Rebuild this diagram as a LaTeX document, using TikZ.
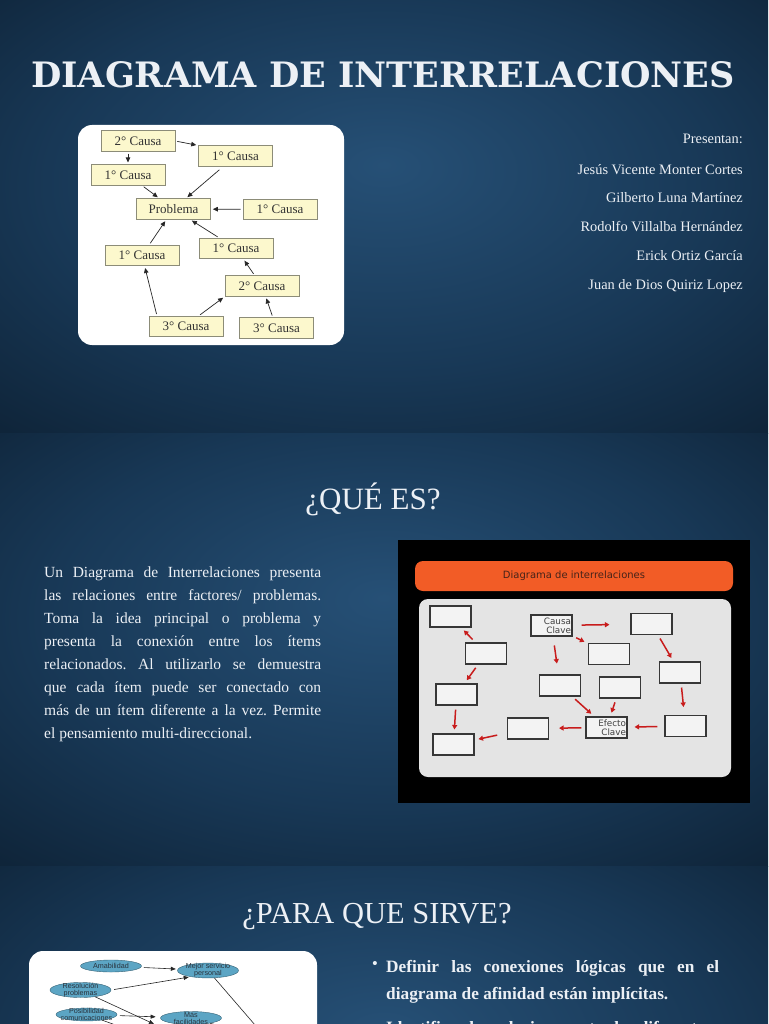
\documentclass[tikz,border=0pt]{standalone}
\usepackage{fontspec}
\setmainfont{Liberation Serif}
\newfontfamily\slabfont{DejaVu Serif}
\newfontfamily\guisans{DejaVu Sans}
\newfontfamily\arialfont{Liberation Sans}
\usetikzlibrary{arrows.meta,positioning,calc,shadows,shapes.geometric}

\definecolor{bgin}{RGB}{38,80,118}
\definecolor{bgmid}{RGB}{24,56,86}
\definecolor{bgout}{RGB}{10,26,42}
\definecolor{bgedge}{RGB}{6,16,26}
\definecolor{slidewhite}{RGB}{236,240,245}
\definecolor{causefill}{RGB}{252,248,205}
\definecolor{causeedge}{RGB}{140,140,120}
\definecolor{barorange}{RGB}{242,92,38}
\definecolor{bartext}{RGB}{70,35,25}
\definecolor{panelgrey}{RGB}{228,228,228}
\definecolor{boxfill}{RGB}{243,243,243}
\definecolor{boxedge}{RGB}{55,55,55}
\definecolor{arrowred}{RGB}{200,28,28}
\definecolor{ovalblue}{RGB}{92,165,196}
\definecolor{ovaltext}{RGB}{40,50,60}

\pgfdeclareradialshading{slidebg}{\pgfpoint{0bp}{6bp}}{color(0bp)=(bgin); color(22bp)=(bgmid); color(45bp)=(bgout); color(60bp)=(bgedge)}

\frenchspacing
\begin{document}
\begin{tikzpicture}[x=1pt, y=-1pt,
    slidetext/.style={text=slidewhite, inner sep=0pt},
    causebox/.style={draw=causeedge, fill=causefill, line width=0.6pt, minimum width=74pt, minimum height=20.5pt, inner sep=0pt, font=\fontsize{13}{14}\selectfont, text=black!80},
    causearrow/.style={-{Triangle[length=5pt,width=4.5pt]}, line width=0.7pt, black!85, shorten <=2pt, shorten >=2pt},
    itembox/.style={draw=boxedge, fill=boxfill, line width=1.1pt, minimum width=41pt, minimum height=21pt, inner sep=0pt, drop shadow={shadow xshift=0.8pt, shadow yshift=-0.8pt, opacity=0.45}},
    keybox/.style={itembox, text width=39pt, align=right, inner xsep=1pt, font=\guisans\fontsize{8.8}{8.8}\selectfont, text=black!75},
    linkarrow/.style={-{Triangle[length=4.5pt,width=5pt]}, line width=1.5pt, arrowred, shorten <=4pt, shorten >=4pt},
    oval/.style={ellipse, fill=ovalblue, draw=ovalblue!60!black, line width=0.4pt, minimum width=61pt, minimum height=12pt, inner xsep=-7pt, inner ysep=-1.5pt, align=center, font=\arialfont\fontsize{7.2}{6.8}\selectfont, text=ovaltext},
    ovalarrow/.style={-{Triangle[length=5pt,width=4pt]}, line width=0.6pt, black!85},
    member/.style={slidetext, anchor=north east, text height=10pt, text depth=3.5pt, font=\fontsize{14.4}{16}\selectfont},
]
    \clip (0,0) rectangle (768,1024);
    % three slides
    \foreach \ytop in {0,433,866}
        \shade[shading=slidebg] (0,\ytop) rectangle (768,\ytop+433);

    % slide 1
    \node[slidetext, font=\slabfont\bfseries\fontsize{35}{40}\selectfont] (title) at (383,75) {DIAGRAMA DE INTERRELACIONES};
    \fill[white, rounded corners=14pt] (78,125) rectangle (344,345);

    \node[causebox] (c2a) at (138,141) {2° Causa};
    \node[causebox] (c1b) at (235.5,156) {1° Causa};
    \node[causebox] (c1a) at (128,175) {1° Causa};
    \node[causebox] (prob) at (173.5,209) {Problema};
    \node[causebox] (c1c) at (280,209.5) {1° Causa};
    \node[causebox] (c1d) at (236,248.5) {1° Causa};
    \node[causebox] (c1e) at (142,255.5) {1° Causa};
    \node[causebox] (c2b) at (262,286) {2° Causa};
    \node[causebox] (c3a) at (186,326.5) {3° Causa};
    \node[causebox] (c3b) at (276.5,328) {3° Causa};

    \draw[causearrow] (c2a.east) -- (c1b.north west);
    \draw[causearrow] (c1a |- c2a.south) -- (c1a.north);
    \draw[causearrow] (c1a) -- (prob);
    \draw[causearrow, shorten <=5pt] (c1b) -- (prob);
    \draw[causearrow] (c1c) -- (prob);
    \draw[causearrow] (c1e) -- (prob);
    \draw[causearrow] (c1d) -- (prob);
    \draw[causearrow] (c2b) -- (c1d);
    \draw[causearrow] (c3a.160) -- (c1e);
    \draw[causearrow] (c3a.40) -- (c2b.south west);
    \draw[causearrow] (c3b) -- (c2b);

    \node[member] (pres) at (743,133) {Presentan:};
    \node[member, below=17pt of pres.south east, anchor=north east] (m1) {Jesús Vicente Monter Cortes};
    \node[member, below=15pt of m1.south east, anchor=north east] (m2) {Gilberto Luna Martínez};
    \node[member, below=15pt of m2.south east, anchor=north east] (m3) {Rodolfo Villalba Hernández};
    \node[member, below=15pt of m3.south east, anchor=north east] (m4) {Erick Ortiz García};
    \node[member, below=15pt of m4.south east, anchor=north east] (m5) {Juan de Dios Quiriz Lopez};

    % slide 2
    \node[slidetext, font=\fontsize{31}{34}\selectfont] (whatis) at (373,499) {¿QUÉ ES?};
    \node[slidetext, anchor=north west, text width=277pt, align=justify, font=\fontsize{15.5}{23}\selectfont] (para) at (44,566.5)
        {Un Diagrama de Interrelaciones presenta\linebreak las relaciones entre factores/ problemas.\linebreak Toma la idea principal o problema y\linebreak presenta la conexión entre los ítems\linebreak relacionados. Al utilizarlo se demuestra\linebreak que cada ítem puede ser conectado con\linebreak más de un ítem diferente a la vez. Permite\linebreak el pensamiento multi-direccional.};

    \fill[black] (398,540) rectangle (750,803);
    \node[fill=barorange, rounded corners=8pt, minimum width=318pt, minimum height=30pt, inner sep=0pt, text=bartext, font=\guisans\fontsize{10}{11}\selectfont] (bar) at (574,576) {Diagrama de interrelaciones};
    \fill[panelgrey, rounded corners=9pt] (419,599) rectangle (731,777);

    \node[itembox] (b1) at (450.5,616.5) {};
    \node[itembox] (b2) at (486,653.5) {};
    \node[itembox] (b3) at (456.5,694.5) {};
    \node[itembox] (b4) at (453.5,744.5) {};
    \node[keybox] (cclave) at (551.5,625.5) {Causa\\Clave};
    \node[itembox] (b5) at (651.5,624) {};
    \node[itembox] (b6) at (609,654) {};
    \node[itembox] (b7) at (680,672.5) {};
    \node[itembox] (b8) at (560,685.5) {};
    \node[itembox] (b9) at (620,687.5) {};
    \node[keybox] (eclave) at (606.5,727.5) {Efecto\\Clave};
    \node[itembox] (b10) at (685.5,726) {};
    \node[itembox] (b11) at (528,728.5) {};

    \draw[linkarrow] (b2) -- (b1);
    \draw[linkarrow] (b2) -- (b3);
    \draw[linkarrow] (b3) -- (b4);
    \draw[linkarrow, shorten <=10pt] (b11) -- (b4);
    \draw[linkarrow, shorten <=9pt, shorten >=21pt] (cclave) -- (b5);
    \draw[linkarrow] (cclave) -- (b6);
    \draw[linkarrow, shorten <=9pt, shorten >=11pt] (cclave) -- (b8);
    \draw[linkarrow] (b5) -- (b7);
    \draw[linkarrow, shorten >=8pt] (b7) -- (b10);
    \draw[linkarrow, shorten <=7pt, shorten >=7pt] (b10) -- (eclave);
    \draw[linkarrow] (b8) -- (eclave);
    \draw[linkarrow] (b9) -- (eclave);
    \draw[linkarrow, shorten >=10pt] (eclave) -- (b11);

    % slide 3
    \node[slidetext, font=\fontsize{30.5}{34}\selectfont] (whatfor) at (377,917) {¿PARA QUE SIRVE?};
    \fill[white, rounded corners=14pt] (29,951) rectangle (317,1070);

    \node[oval] (amab) at (111,966) {Amabilidad};
    \node[oval] (mejor) at (208,970.5) {Mejor servicio\\personal};
    \node[oval] (resol) at (80.5,990) {Resolución\\problemas};
    \node[oval] (posib) at (86.5,1014.5) {Posibilidad\\comunicaciones};
    \node[oval] (mas) at (191,1018) {Más\\facilidades};
    \coordinate (offa) at (268,1040);
    \coordinate (offb) at (154,1024);
    \coordinate (offc) at (135,1032);
    \coordinate (offd) at (242,1032);

    \draw[ovalarrow, shorten <=3pt, shorten >=2pt] (amab) -- (mejor);
    \draw[ovalarrow, shorten <=3pt, shorten >=2pt] (resol.east) -- (mejor.200);
    \draw[ovalarrow, shorten <=3pt, shorten >=5pt] (posib) -- (mas);
    \draw[line width=0.6pt, black!85] (mejor) -- (offa);
    \draw[ovalarrow] (resol) -- (offb);
    \draw[line width=0.6pt, black!85] (posib) -- (offc);
    \draw[line width=0.6pt, black!85] (mas) -- (offd);

    \node[slidetext, font=\bfseries\fontsize{15}{27}\selectfont] (dot1) at (375,965) {•};
    \node[slidetext, anchor=north west, text width=333pt, align=justify, font=\bfseries\fontsize{17.3}{27}\selectfont] (item1) at (386,960)
        {Definir las conexiones lógicas que en el\linebreak diagrama de afinidad están implícitas.};
    \node[slidetext, font=\bfseries\fontsize{15}{27}\selectfont] (dot2) at (375,1029) {•};
    \node[slidetext, anchor=north west, text width=333pt, align=justify, font=\bfseries\fontsize{17.3}{27}\selectfont] (item2) at (386,1021)
        {\parfillskip=0pt Identificar las relaciones entre los diferentes};
\end{tikzpicture}
\end{document}
